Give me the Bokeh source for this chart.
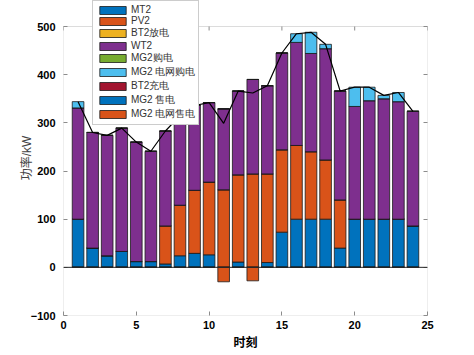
import math
from bokeh.plotting import figure
from bokeh.models import ColumnDataSource, LinearAxis, Span, FixedTicker, Range1d, BoxAnnotation
from bokeh.embed import file_html
from bokeh.resources import INLINE

# ---- data (kW), hours 1..24 ----
hours = [1, 2, 3, 4, 5, 6, 7, 8, 9, 10, 11, 12, 13, 14, 15, 16, 17, 18, 19, 20, 21, 22, 23, 24]
mt2 = [100, 40, 24, 33, 12, 12, 7, 24, 29, 26, 0, 11, 0, 10, 73, 100, 100, 100, 40, 100, 100, 100, 100, 86]
pv2 = [0, 0, 0, 0, 0, 0, 79, 105, 131, 151, 161, 181, 194, 184, 171, 153, 140, 123, 100, 0, 0, 0, 0, 0]
bt2_dis = [0, 0, 0, 0, 0, 0, 0, 0, 0, 0, 0, 0, 0, 0, 0, 0, 0, 0, 0, 0, 0, 0, 0, 0]
wt2 = [231, 240, 250, 256, 248, 229, 197, 186, 176, 165, 168, 174, 196, 183, 201, 214, 204, 231, 226, 234, 246, 250, 244, 238]
mg2_buy = [0, 0, 0, 0, 0, 0, 0, 0, 0, 0, 0, 0, 0, 0, 0, 0, 0, 0, 0, 0, 0, 0, 0, 0]
grid_buy = [13, 0, 0, 0, 0, 0, 0, 0, 0, 0, 0, 0, 0, 0, 0, 18, 44, 9, 0, 40, 28, 7, 19, 0]
bt2_chg = [0, 0, 0, 0, 0, 0, 0, 0, 0, 0, 0, 0, 0, 0, 0, 0, 0, 0, 0, 0, 0, 0, 0, 0]
mg2_sell = [0, 0, 0, 0, 0, 0, 0, 0, 0, 0, 0, 0, 0, 0, 0, 0, 0, 0, 0, 0, 0, 0, 0, 0]
grid_sell = [0, 0, 0, 0, 0, 0, 0, 0, 0, 0, -30, 0, -28, 0, 0, 0, 0, 0, 0, 0, 0, 0, 0, 0]

series_labels = ["MT2", "PV2", "BT2放电", "WT2", "MG2购电", "MG2 电网购电", "BT2充电", "MG2 售电", "MG2 电网售电"]
series_colors = ["#0072BD", "#D95319", "#EDB120", "#7E2F8E", "#77AC30", "#4DBEEE", "#A2142F", "#0072BD", "#D95319"]
x_ticks = [0, 5, 10, 15, 20, 25]
y_ticks = [-100, 0, 100, 200, 300, 400, 500]
x_label = "时刻"
y_label = "功率/kW"

# net load curve = sum of all components
load = [a + b + c + d + e + f + g + h + i for a, b, c, d, e, f, g, h, i in
        zip(mt2, pv2, bt2_dis, wt2, mg2_buy, grid_buy, bt2_chg, mg2_sell, grid_sell)]

src = ColumnDataSource(dict(hour=hours, mt2=mt2, pv2=pv2, bt2_dis=bt2_dis, wt2=wt2,
                            mg2_buy=mg2_buy, grid_buy=grid_buy, bt2_chg=bt2_chg,
                            mg2_sell=mg2_sell, grid_sell=grid_sell, load=load))

FONT = "Liberation Sans, Arial, 'Noto Sans CJK SC', sans-serif"
LEG_FONT = "Liberation Sans, sans-serif"
AXIS_GREY = "#8c8c8c"

# layout: frame reaches the top of the canvas so the legend may rise above the axes box
W, H = 474, 355
B_LEFT, B_RIGHT, B_BOTTOM = 63, 47, 40
TOP_GAP = 26                       # px between canvas top and the axes box top
X_MIN, X_MAX = x_ticks[0], x_ticks[-1]
Y_MIN, Y_MAX = y_ticks[0], y_ticks[-1]
frame_h = H - B_BOTTOM
y_top = Y_MAX + TOP_GAP * (Y_MAX - Y_MIN) / (frame_h - TOP_GAP)

p = figure(width=W, height=H, output_backend="svg", toolbar_location=None,
           x_range=Range1d(X_MIN, X_MAX), y_range=Range1d(Y_MIN, y_top),
           min_border_left=B_LEFT, min_border_right=B_RIGHT, min_border_top=0,
           min_border_bottom=B_BOTTOM)
p.grid.visible = False
p.outline_line_color = None
p.background_fill_color = "white"
p.border_fill_color = "white"

pos_keys = ["mt2", "pv2", "bt2_dis", "wt2", "mg2_buy", "grid_buy"]
neg_keys = ["bt2_chg", "mg2_sell", "grid_sell"]

p.vbar_stack(pos_keys, x="hour", width=0.8, source=src, color=series_colors[:6],
             line_color="#1a1a1a", line_width=0.8, legend_label=series_labels[:6])
p.vbar_stack(neg_keys, x="hour", width=0.8, source=src, color=series_colors[6:],
             line_color="#1a1a1a", line_width=0.8, legend_label=series_labels[6:])

p.add_layout(Span(location=0, dimension="width", line_color="#262626", line_width=1))
p.line(x="hour", y="load", source=src, line_color="black", line_width=1.2)

# axes box (MATLAB "box on")
p.add_layout(BoxAnnotation(left=X_MIN, right=X_MAX, bottom=Y_MIN, top=Y_MAX,
                           fill_alpha=0, line_color=AXIS_GREY, line_width=1))
# top inward ticks
p.ray(x=x_ticks, y=[Y_MAX] * len(x_ticks), length=4, length_units="screen",
      angle=-math.pi / 2, line_color=AXIS_GREY, line_width=1)

def style_axis(ax, show_labels):
    ax.axis_line_color = None
    ax.major_tick_line_color = AXIS_GREY
    ax.major_tick_in = 4
    ax.major_tick_out = 0
    ax.minor_tick_line_color = None
    if show_labels:
        ax.major_label_text_font = FONT
        ax.major_label_text_font_size = "11px"
        ax.major_label_text_font_style = "bold"
        ax.major_label_text_color = "black"

xa = p.xaxis[0]
xa.ticker = FixedTicker(ticks=x_ticks)
style_axis(xa, True)
xa.major_label_standoff = 5
xa.axis_label = x_label
xa.axis_label_text_font = FONT
xa.axis_label_text_font_style = "bold"
xa.axis_label_text_font_size = "12px"
xa.axis_label_text_color = "black"
xa.axis_label_standoff = 4

ya = p.yaxis[0]
ya.ticker = FixedTicker(ticks=y_ticks)
style_axis(ya, True)
ya.major_label_standoff = 8
ya.axis_label = y_label
ya.axis_label_text_font = FONT
ya.axis_label_text_font_style = "normal"
ya.axis_label_text_font_size = "12px"
ya.axis_label_text_color = "#444444"
ya.axis_label_standoff = -6

right_ax = LinearAxis(ticker=FixedTicker(ticks=y_ticks),
                      major_label_overrides={t: "" for t in y_ticks})
style_axis(right_ax, False)
p.add_layout(right_ax, "right")

leg = p.legend[0]
leg.location = (29, 190)
leg.label_text_font = LEG_FONT
leg.label_text_font_size = "10px"
leg.label_text_color = "#333333"
leg.glyph_width = 33
leg.glyph_height = 10
leg.label_height = 10
leg.label_standoff = 2
leg.spacing = 0
leg.padding = 3
leg.margin = 0
leg.border_line_color = "#999999"
leg.border_line_width = 1
leg.background_fill_alpha = 1

open("out.html", "w").write(file_html(p, INLINE))
